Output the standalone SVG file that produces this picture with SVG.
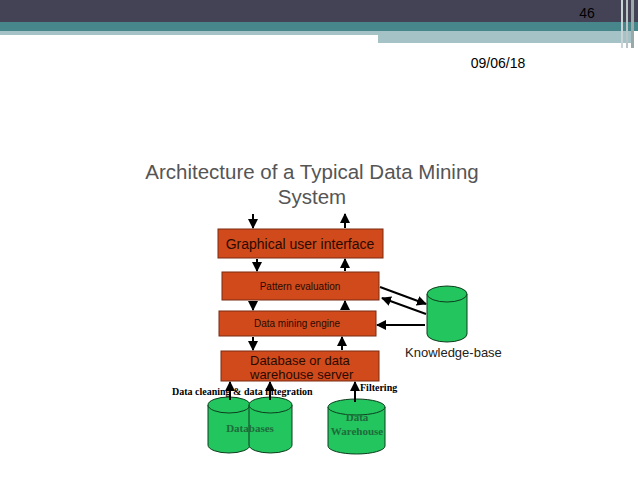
<svg xmlns="http://www.w3.org/2000/svg" width="638" height="478" viewBox="0 0 638 478">
<defs>
<marker id="ah" viewBox="0 0 10 10" refX="9" refY="5" markerWidth="5" markerHeight="5" orient="auto"><path d="M0,0L10,5L0,10z" fill="#000"/></marker>
<style>
.box{fill:#d04a1c;stroke:#7a2a10;stroke-width:1}
.cyl{fill:#22c55e;stroke:#0f3d1e;stroke-width:1}
.s{font-family:"Liberation Sans",Arial,sans-serif}
.b{font-family:"Liberation Serif","Times New Roman",serif;font-weight:bold}
.ln{stroke:#000;stroke-width:2;fill:none;marker-end:url(#ah)}
</style>
</defs>
<rect width="638" height="478" fill="#fff"/>
<g id="header">
<rect x="0" y="0" width="638" height="22" fill="#434355"/>
<rect x="0" y="22" width="638" height="9" fill="#47868a"/>
<rect x="0" y="31" width="378" height="4" fill="#a5c3c6"/>
<rect x="378" y="31" width="255" height="12" fill="#a5c3c6"/>
<rect x="621" y="0" width="2" height="48" fill="#c8d4d6"/>
<rect x="626" y="0" width="2" height="48" fill="#b8c4c6"/>
<rect x="631" y="0" width="3" height="48" fill="#9aa8aa"/>
<text x="587" y="18" class="s" font-size="14" fill="#000" text-anchor="middle">46</text>
<text x="498" y="68" class="s" font-size="14" fill="#000" text-anchor="middle">09/06/18</text>
</g>
<g id="title">
<text x="312" y="179" class="s" font-size="20.5" fill="#555" text-anchor="middle">Architecture of a Typical Data Mining</text>
<text x="312" y="204" class="s" font-size="20.5" fill="#555" text-anchor="middle">System</text>
</g>
<g id="gui"><rect class="box" x="218" y="229" width="165" height="29"/><text x="300" y="249" class="s" font-size="14" text-anchor="middle" fill="#2a0a00">Graphical user interface</text></g>
<g id="pattern"><rect class="box" x="222" y="272" width="157" height="28"/><text x="300" y="290" class="s" font-size="10" text-anchor="middle" fill="#2a0a00">Pattern evaluation</text></g>
<g id="engine"><rect class="box" x="219" y="311" width="157" height="25"/><text x="297" y="327" class="s" font-size="10" text-anchor="middle" fill="#2a0a00">Data mining engine</text></g>
<g id="server"><rect class="box" x="221" y="351" width="158" height="30"/><text x="250" y="365" class="s" font-size="13" fill="#2a0a00">Database or data</text><text x="250" y="379" class="s" font-size="13" fill="#2a0a00">warehouse server</text></g>
<g id="kb">
<path class="cyl" d="M427,294 v40 a20,8 0 0 0 40,0 v-40"/>
<ellipse class="cyl" cx="447" cy="294" rx="20" ry="8"/>
<text x="405" y="357" class="s" font-size="13" fill="#222">Knowledge-base</text>
</g>
<g id="databases">
<path class="cyl" d="M208,405 v40 a21,8 0 0 0 42,0 v-40"/>
<ellipse class="cyl" cx="229" cy="405" rx="21" ry="8"/>
<path class="cyl" d="M249,405 v40 a21.5,8 0 0 0 43,0 v-40"/>
<ellipse class="cyl" cx="270.5" cy="405" rx="21.5" ry="8"/>
<text x="250" y="432" class="b" font-size="11" fill="#1f6b3a" text-anchor="middle">Databases</text>
</g>
<g id="warehouse">
<path class="cyl" d="M328,407 v39 a28.5,8 0 0 0 57,0 v-39"/>
<ellipse class="cyl" cx="356.5" cy="407" rx="28.5" ry="8"/>
<text x="357" y="421" class="b" font-size="11" fill="#1f6b3a" text-anchor="middle">Data</text>
<text x="357" y="435" class="b" font-size="11" fill="#1f6b3a" text-anchor="middle">Warehouse</text>
</g>
<g id="connectors">
<line class="ln" x1="253" y1="214" x2="253" y2="228"/>
<line class="ln" x1="345" y1="228" x2="345" y2="214"/>
<line class="ln" x1="257" y1="259" x2="257" y2="271"/>
<line class="ln" x1="345" y1="271" x2="345" y2="259"/>
<line class="ln" x1="253" y1="301" x2="253" y2="310"/>
<line class="ln" x1="345" y1="310" x2="345" y2="301"/>
<line class="ln" x1="253" y1="337" x2="253" y2="350"/>
<line class="ln" x1="342" y1="350" x2="342" y2="337"/>
<line class="ln" x1="380" y1="287" x2="426" y2="304"/>
<line class="ln" x1="426" y1="314" x2="382" y2="298"/>
<line class="ln" x1="425" y1="325" x2="377" y2="325"/>
<line class="ln" x1="230" y1="400" x2="230" y2="382"/>
<line class="ln" x1="270" y1="400" x2="270" y2="382"/>
<line class="ln" x1="355" y1="402" x2="355" y2="382"/>
</g>
<g id="labels">
<text x="172" y="395" class="b" font-size="10" fill="#000">Data cleaning &amp; data integration</text>
<text x="360" y="391" class="b" font-size="10" fill="#000">Filtering</text>
</g>
</svg>
